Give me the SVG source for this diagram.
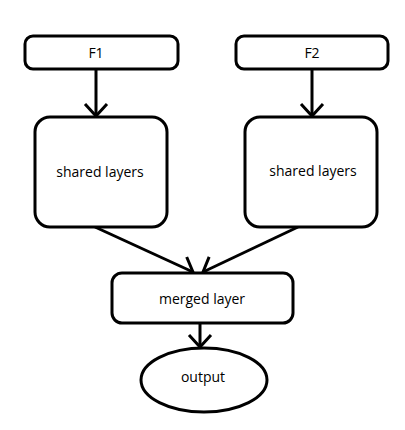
<svg xmlns="http://www.w3.org/2000/svg" width="405" height="430" viewBox="0 0 405 430">
<style>
.n{fill:#fff;stroke:#000;stroke-width:3}
.t{font-family:"Open Sans","Liberation Sans",Arial,sans-serif;font-size:14px;fill:#000;text-anchor:middle;dominant-baseline:central}
.c{stroke:#000;stroke-width:3;fill:none}
</style>
<defs>
<marker id="ah" markerUnits="userSpaceOnUse" markerWidth="30" markerHeight="30" viewBox="-15 -15 30 30" refX="0" refY="0" orient="auto">
<polyline points="-12,-11 0,0 -12,11" fill="none" stroke="#000" stroke-width="3"/>
</marker>
</defs>
<rect width="405" height="430" fill="#fff"/>
<g id="connectors">
<line class="c" x1="96" y1="69" x2="96" y2="116" marker-end="url(#ah)"/>
<line class="c" x1="312" y1="69" x2="312" y2="116" marker-end="url(#ah)"/>
<line class="c" x1="95" y1="227" x2="193" y2="272" marker-end="url(#ah)"/>
<line class="c" x1="298" y1="227" x2="203" y2="272" marker-end="url(#ah)"/>
<line class="c" x1="200" y1="323" x2="200" y2="347" marker-end="url(#ah)"/>
</g>
<g id="F1">
<rect class="n" x="25" y="36" width="153" height="33" rx="8"/>
<text class="t" x="96" y="52">F1</text>
</g>
<g id="F2">
<rect class="n" x="236" y="36" width="152" height="33" rx="8"/>
<text class="t" x="312" y="52">F2</text>
</g>
<g id="shared1">
<rect class="n" x="35" y="117" width="132" height="110" rx="15"/>
<text class="t" x="100" y="171">shared layers</text>
</g>
<g id="shared2">
<rect class="n" x="245" y="117" width="132" height="110" rx="15"/>
<text class="t" x="313" y="170">shared layers</text>
</g>
<g id="merged">
<rect class="n" x="112" y="273" width="181" height="50" rx="10"/>
<text class="t" x="202" y="298">merged layer</text>
</g>
<g id="output">
<ellipse class="n" cx="204" cy="380" rx="63" ry="32"/>
<text class="t" x="203" y="376">output</text>
</g>
</svg>
